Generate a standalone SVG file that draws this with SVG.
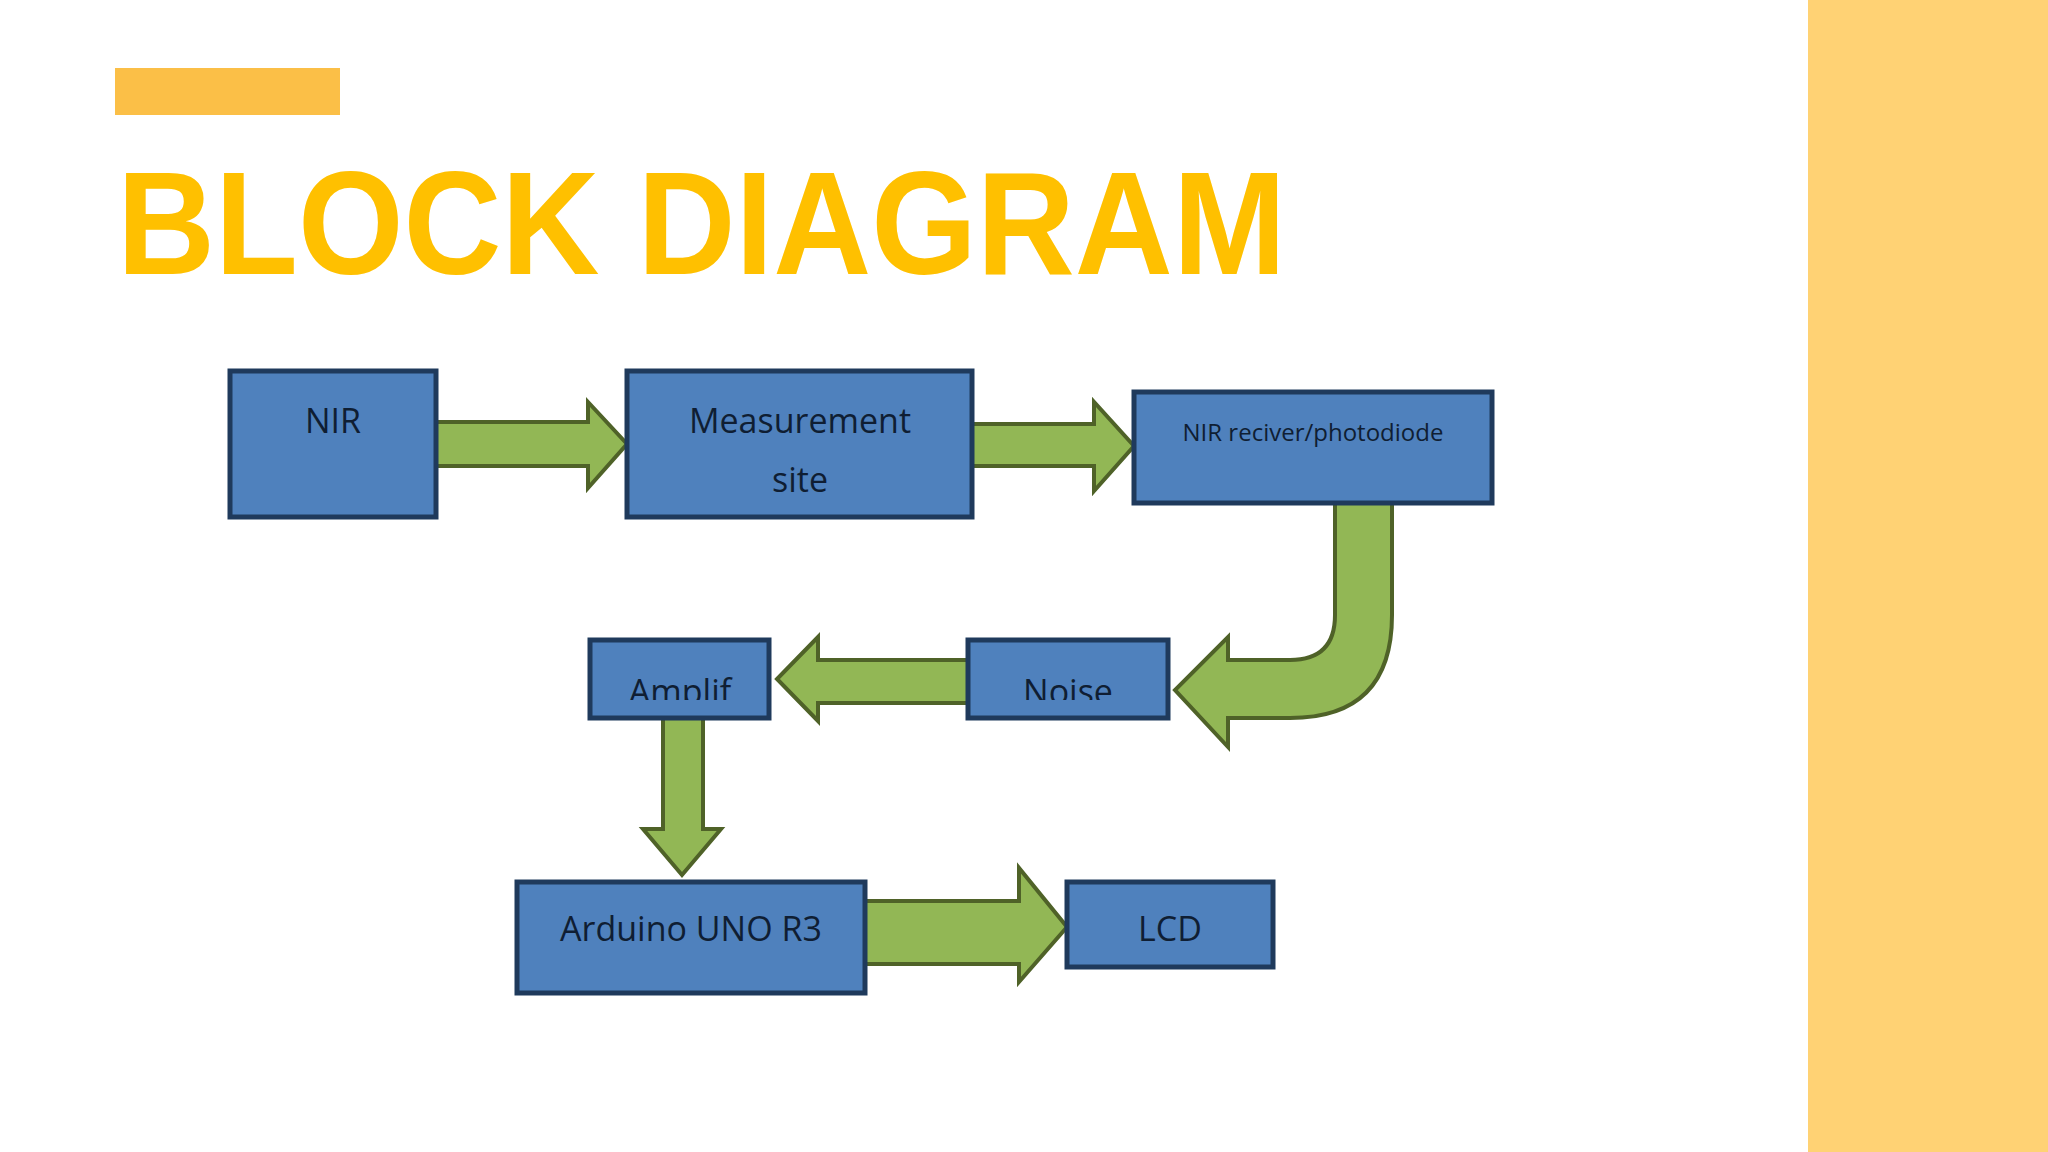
<svg xmlns="http://www.w3.org/2000/svg" width="2048" height="1152" viewBox="0 0 2048 1152">
<style>
.box{fill:#4F81BD;stroke:#1F3A5C;stroke-width:5}
.arr{fill:#92B755;stroke:#4F6228;stroke-width:4;stroke-linejoin:miter}
.t{font-family:"Open Sans","Liberation Sans",sans-serif;fill:#0F1E33;text-anchor:middle;font-size:34px}
</style>
<defs><clipPath id="ca"><rect x="590" y="640" width="180" height="60"/></clipPath></defs>
<rect width="2048" height="1152" fill="#fff"/>
<rect x="1808" y="0" width="240" height="1152" fill="#FFD274"/>
<rect x="115" y="68" width="225" height="47" fill="#FBBF47"/>
<text x="117" y="274" font-family="Liberation Sans,Arial,sans-serif" font-weight="bold" font-size="146" fill="#FFC000" textLength="1169" lengthAdjust="spacingAndGlyphs">BLOCK DIAGRAM</text>
<g id="connectors">
<path class="arr" d="M436,422 L588,422 L588,402 L627,444 L588,488 L588,466 L436,466 Z"/>
<path class="arr" d="M972,424 L1094,424 L1094,402 L1134,446 L1094,491 L1094,466 L972,466 Z"/>
<path class="arr" d="M1335,503 L1335,615 Q1335,660 1290,660 L1228,660 L1228,637 L1175,690 L1228,747 L1228,718 L1290,718 Q1392,718 1392,615 L1392,503 Z"/>
<path class="arr" d="M968,660 L818,660 L818,637 L777,679 L818,721 L818,703 L968,703 Z"/>
<path class="arr" d="M663,718 L663,829 L643,829 L682,875 L721,829 L703,829 L703,718 Z"/>
<path class="arr" d="M865,901 L1019,901 L1019,868 L1067,927 L1019,982 L1019,964 L865,964 Z"/>
</g>
<g id="nir"><rect class="box" x="230" y="371" width="206" height="146"/><text class="t" x="333" y="433">NIR</text></g>
<g id="measurement"><rect class="box" x="627" y="371" width="345" height="146"/><text class="t" x="800" y="433">Measurement</text><text class="t" x="800" y="492">site</text></g>
<g id="receiver"><rect class="box" x="1134" y="392" width="358" height="111"/><text class="t" x="1313" y="441" style="font-size:24px">NIR reciver/photodiode</text></g>
<g id="amplif"><rect class="box" x="590" y="640" width="179" height="78"/><text class="t" x="680" y="704" clip-path="url(#ca)">Amplif</text></g>
<g id="noise"><rect class="box" x="968" y="640" width="200" height="78"/><text class="t" x="1068" y="704" clip-path="url(#cn)">Noise</text></g>
<defs><clipPath id="cn"><rect x="968" y="640" width="200" height="60"/></clipPath></defs>
<g id="arduino"><rect class="box" x="517" y="882" width="348" height="111"/><text class="t" x="691" y="941">Arduino UNO R3</text></g>
<g id="lcd"><rect class="box" x="1067" y="882" width="206" height="85"/><text class="t" x="1170" y="941">LCD</text></g>
</svg>
